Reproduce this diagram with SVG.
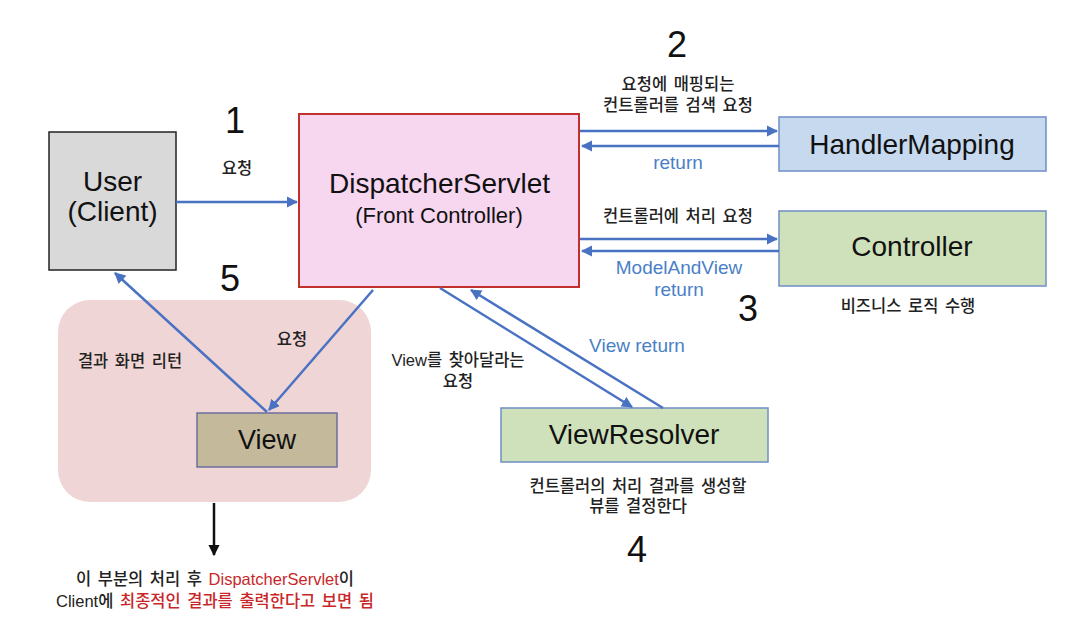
<svg xmlns="http://www.w3.org/2000/svg" width="1076" height="622" viewBox="0 0 1076 622">
<style>
.lat{font-family:"Liberation Sans","Noto Sans CJK KR",sans-serif;fill:#111}
.big{font-size:28px}
.num{font-size:36px}
.ko{font-family:"Liberation Sans","Noto Sans CJK KR",sans-serif;font-size:16.5px;fill:#222;font-weight:500;word-spacing:2px}
.blue{fill:#4a7fc8;font-size:19px}
.red{fill:#c8272a}
.conn{stroke:#4a72c2;stroke-width:2.5;fill:none}
.bk{stroke:#111;stroke-width:2.5;fill:none}
</style>
<defs>
<marker id="ah" viewBox="0 0 10 10" refX="9" refY="5" markerWidth="4.5" markerHeight="4.5" orient="auto" markerUnits="strokeWidth">
<path d="M0,0 L10,5 L0,10 Z" fill="#4a72c2"/>
</marker>
<marker id="ahk" viewBox="0 0 10 10" refX="9" refY="5" markerWidth="4.5" markerHeight="4.5" orient="auto" markerUnits="strokeWidth">
<path d="M0,0 L10,5 L0,10 Z" fill="#111"/>
</marker>
</defs>
<rect width="1076" height="622" fill="#fff"/>

<g id="view-area">
<rect x="58" y="300" width="313" height="202" rx="32" fill="#f0d5d6"/>
</g>

<g id="user">
<rect x="49" y="132" width="127" height="138" fill="#d9d9d9" stroke="#222" stroke-width="1.5"/>
<text class="lat big" x="112.5" y="191" text-anchor="middle">User</text>
<text class="lat big" x="112.5" y="221" text-anchor="middle">(Client)</text>
</g>

<g id="dispatcher">
<rect x="299" y="114" width="280" height="173" fill="#f7d6f0" stroke="#c0302c" stroke-width="2"/>
<text class="lat big" x="439.5" y="193" text-anchor="middle">DispatcherServlet</text>
<text class="lat" x="439" y="223" text-anchor="middle" font-size="22">(Front Controller)</text>
</g>

<g id="handlermapping">
<rect x="779" y="117" width="267" height="54" fill="#c6d9ee" stroke="#6f8fc5" stroke-width="1.5"/>
<text class="lat big" x="912" y="154" text-anchor="middle">HandlerMapping</text>
</g>

<g id="controller">
<rect x="779" y="211" width="267" height="75" fill="#cfe1bb" stroke="#6f8fc5" stroke-width="1.5"/>
<text class="lat big" x="912" y="256" text-anchor="middle">Controller</text>
</g>

<g id="viewresolver">
<rect x="501" y="408" width="267" height="54" fill="#cfe1bb" stroke="#6f8fc5" stroke-width="1.5"/>
<text class="lat big" x="634" y="444" text-anchor="middle">ViewResolver</text>
</g>

<g id="view">
<rect x="197" y="413" width="140" height="54" fill="#c4b99b" stroke="#6e6e9e" stroke-width="1.5"/>
<text class="lat" x="267" y="449" text-anchor="middle" font-size="27" fill="#2a1a1a">View</text>
</g>

<g id="connectors">
<line class="conn" x1="176" y1="202" x2="297" y2="202" marker-end="url(#ah)"/>
<line class="conn" x1="580" y1="131" x2="777" y2="131" marker-end="url(#ah)"/>
<line class="conn" x1="779" y1="146" x2="582" y2="146" marker-end="url(#ah)"/>
<line class="conn" x1="580" y1="239" x2="777" y2="239" marker-end="url(#ah)"/>
<line class="conn" x1="779" y1="251" x2="582" y2="251" marker-end="url(#ah)"/>
<line class="conn" x1="440" y1="288" x2="632" y2="407" marker-end="url(#ah)"/>
<line class="conn" x1="663" y1="408" x2="471" y2="290" marker-end="url(#ah)"/>
<line class="conn" x1="373" y1="290" x2="269" y2="410" marker-end="url(#ah)"/>
<line class="conn" x1="267" y1="412" x2="115" y2="273" marker-end="url(#ah)"/>
<line class="bk" x1="214" y1="503" x2="214" y2="555" marker-end="url(#ahk)"/>
</g>

<g id="labels">
<text class="lat num" x="235" y="133" text-anchor="middle">1</text>
<text class="ko" x="237" y="174" text-anchor="middle">요청</text>
<text class="lat num" x="677" y="57" text-anchor="middle">2</text>
<text class="ko" x="678" y="90" text-anchor="middle">요청에 매핑되는</text>
<text class="ko" x="678" y="111" text-anchor="middle">컨트롤러를 검색 요청</text>
<text class="lat blue" x="678" y="169" text-anchor="middle">return</text>
<text class="ko" x="678" y="222" text-anchor="middle">컨트롤러에 처리 요청</text>
<text class="lat blue" x="679" y="274" text-anchor="middle">ModelAndView</text>
<text class="lat blue" x="679" y="296" text-anchor="middle">return</text>
<text class="lat num" x="748" y="321" text-anchor="middle">3</text>
<text class="ko" x="908" y="312" text-anchor="middle">비즈니스 로직 수행</text>
<text class="lat num" x="230" y="291" text-anchor="middle">5</text>
<text class="ko" x="130" y="367" text-anchor="middle">결과 화면 리턴</text>
<text class="ko" x="292" y="345" text-anchor="middle">요청</text>
<text class="ko" x="458" y="366" text-anchor="middle">View를 찾아달라는</text>
<text class="ko" x="458" y="387" text-anchor="middle">요청</text>
<text class="lat blue" x="637" y="352" text-anchor="middle">View return</text>
<text class="ko" x="638" y="492" text-anchor="middle">컨트롤러의 처리 결과를 생성할</text>
<text class="ko" x="638" y="512" text-anchor="middle">뷰를 결정한다</text>
<text class="lat num" x="637" y="562" text-anchor="middle">4</text>
<text class="ko" x="215" y="585" text-anchor="middle">이 부분의 처리 후 <tspan class="red">DispatcherServlet</tspan>이</text>
<text class="ko" x="215" y="607" text-anchor="middle">Client에 <tspan class="red">최종적인 결과를 출력한다고 보면 됨</tspan></text>
</g>
</svg>
